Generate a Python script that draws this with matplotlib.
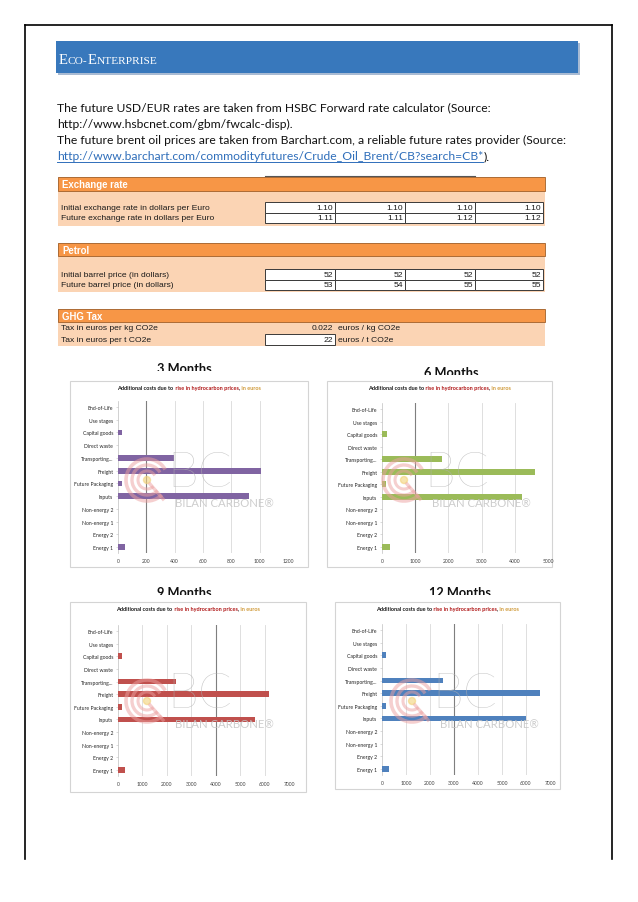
import matplotlib
matplotlib.use("Agg")
import matplotlib.pyplot as plt
from matplotlib.patches import Rectangle, Circle, Arc

W, H = 638, 903

# --- text of the page ---
header_title = "ECO-ENTERPRISE"
intro_lines = [
    "The future USD/EUR rates are taken from HSBC Forward rate calculator (Source:",
    "http://www.hsbcnet.com/gbm/fwcalc-disp).",
    "The future brent oil prices are taken from Barchart.com, a reliable future rates provider (Source:",
]
link_text = "http://www.barchart.com/commodityfutures/Crude_Oil_Brent/CB?search=CB*"

# --- spreadsheet values ---
rate_labels = ["Initial exchange rate in dollars per Euro",
               "Future exchange rate in dollars per Euro"]
initial_rate = [1.10, 1.10, 1.10, 1.10]
future_rate = [1.11, 1.11, 1.12, 1.12]
barrel_labels = ["Initial barrel price (in dollars)",
                 "Future barrel price (in dollars)"]
initial_barrel = [52, 52, 52, 52]
future_barrel = [53, 54, 55, 55]
tax_labels = ["Tax in euros per kg CO2e", "Tax in euros per t CO2e"]
tax_per_kg = 0.022
tax_per_t = 22

# --- chart values (additional costs, euros) ---
categories = ["End-of-Life", "Use stages", "Capital goods", "Direct waste",
              "Transporting...", "Freight", "Future Packaging", "Inputs",
              "Non-energy 2", "Non-energy 1", "Energy 2", "Energy 1"]
months = ["3 Months", "6 Months", "9 Months", "12 Months"]
costs_3m = [0, 0, 29, 0, 393, 1010, 29, 925, 0, 0, 0, 48]
costs_6m = [0, 0, 150, 0, 1800, 4620, 130, 4220, 0, 0, 0, 230]
costs_9m = [0, 0, 180, 0, 2370, 6180, 150, 5600, 0, 0, 0, 300]
costs_12m = [0, 0, 180, 0, 2540, 6600, 180, 5990, 0, 0, 0, 300]
axis_max = [1200, 5000, 7000, 7000]
axis_step = [200, 1000, 1000, 1000]
dark_line_at = [200, 1000, 4000, 3000]

BODY = "Lato"
SHEET = "Liberation Sans"
SHEET_FS = 6.1

fig = plt.figure(figsize=(W / 100, H / 100), dpi=100)
page = fig.add_axes([0, 0, 1, 1])
page.set_xlim(0, W)
page.set_ylim(H, 0)
page.axis("off")
renderer = fig.canvas.get_renderer()


def px_axes(l, t, r, b, **kw):
    return fig.add_axes([l / W, 1 - b / H, (r - l) / W, (b - t) / H], **kw)


def rich(ax, x, y, parts, ha="left", va="baseline", **kw):
    texts = [ax.text(0, y, s, va=va, **{**kw, **p}) for s, p in parts]
    widths = [t.get_window_extent(renderer).width for t in texts]
    x0 = x - sum(widths) / 2 if ha == "center" else x
    for t, w in zip(texts, widths):
        t.set_x(x0)
        x0 += w
    return texts


# page frame
page.plot([25, 25], [26, 860], color="black", lw=1.2)
page.plot([612, 612], [26, 860], color="black", lw=1.2)
page.plot([25, 612], [26, 26], color="black", lw=1.2)

# header bar
page.add_patch(Rectangle((58, 44), 522, 32, facecolor="#A9BBD3", edgecolor="none"))
page.add_patch(Rectangle((56, 42), 522, 32, facecolor="#3878BC", edgecolor="none"))
rich(page, 59, 63.5, [("E", {"fontsize": 10.6}), ("CO-", {"fontsize": 8.2}),
                      ("E", {"fontsize": 10.6}), ("NTERPRISE", {"fontsize": 8.2})],
     color="white", family="Liberation Serif")

# intro paragraph
for i, line in enumerate(intro_lines):
    page.text(57, 111 + i * 16.5, line, fontsize=8.7, family=BODY,
              color="#111111", va="baseline")
lt = rich(page, 57, 160.5, [(link_text, {"color": "#2F6EBA"}),
                            (").", {"color": "#111111"})],
          fontsize=8.7, family=BODY)
bb = lt[0].get_window_extent(renderer)
page.plot([bb.x0, bb.x1], [163, 163], color="#2F6EBA", lw=0.7)

# spreadsheet
col_x = [265, 335, 405, 475, 543]
page.plot([265, 475], [177, 177], color="#555555", lw=0.8)


def section(title, y0, y_head, y1):
    page.add_patch(Rectangle((58, y0), 487, y1 - y0, facecolor="#FBD4B4",
                             edgecolor="none"))
    page.add_patch(Rectangle((58, y0), 487, y_head - y0, facecolor="#F79646",
                             edgecolor="#A0602A", lw=0.6))
    page.text(62, (y0 + y_head) / 2 + 0.5, title, fontsize=6.9, family=SHEET,
              weight="bold", color="white", va="center")


def value_rows(labels, rows, fmt, y_top):
    for r, (lab, vals) in enumerate(zip(labels, rows)):
        y0 = y_top + r * 10.5
        page.text(61, y0 + 5.5, lab, fontsize=SHEET_FS, family=SHEET,
                  color="#1A1A1A", va="center")
        for j, v in enumerate(vals):
            page.add_patch(Rectangle((col_x[j], y0), col_x[j + 1] - col_x[j], 10.5,
                                     facecolor="white", edgecolor="#3A3A3A", lw=0.7))
            page.text(col_x[j + 1] - 2, y0 + 5.5, fmt.format(v), fontsize=SHEET_FS,
                      family=SHEET, color="#1A1A1A", ha="right", va="center")


section("Exchange rate", 178, 192, 227)
value_rows(rate_labels, [initial_rate, future_rate], "{:.2f}", 203)
section("Petrol", 244, 257, 293)
value_rows(barrel_labels, [initial_barrel, future_barrel], "{:d}", 270)
section("GHG Tax", 310, 323, 347)
page.text(61, 329, tax_labels[0], fontsize=SHEET_FS, family=SHEET, color="#1A1A1A", va="center")
page.text(61, 341, tax_labels[1], fontsize=SHEET_FS, family=SHEET, color="#1A1A1A", va="center")
page.text(333, 329, f"{tax_per_kg:.3f}", fontsize=SHEET_FS, family=SHEET, color="#1A1A1A",
          ha="right", va="center")
page.text(338, 329, "euros / kg CO2e", fontsize=SHEET_FS, family=SHEET, color="#1A1A1A",
          va="center")
page.add_patch(Rectangle((265, 335), 70, 11, facecolor="white", edgecolor="#3A3A3A", lw=0.7))
page.text(333, 341, f"{tax_per_t:d}", fontsize=SHEET_FS, family=SHEET, color="#1A1A1A",
          ha="right", va="center")
page.text(338, 341, "euros / t CO2e", fontsize=SHEET_FS, family=SHEET, color="#1A1A1A",
          va="center")

# charts
charts = [
    # box (l, t, r, b), plot x0..x1, first/last category y, month title position
    dict(box=(70, 382, 308, 568), x0=118, x1=288, c0=408, c1=548, tx=184, ty=369),
    dict(box=(327, 382, 552, 568), x0=382, x1=548, c0=410, c1=548, tx=451, ty=373),
    dict(box=(70, 603, 306, 793), x0=118, x1=289, c0=632, c1=771, tx=184, ty=593),
    dict(box=(335, 603, 560, 790), x0=382, x1=550, c0=631, c1=770, tx=460, ty=593),
]
series = [costs_3m, costs_6m, costs_9m, costs_12m]
colors = ["#8064A2", "#9BBB59", "#C0504D", "#4F81BD"]

for k, (cfg, vals) in enumerate(zip(charts, series)):
    l, t, r, b = cfg["box"]
    page.text(cfg["tx"], cfg["ty"], months[k], fontsize=9.2, family=BODY,
              weight="bold", color="#111111", ha="center", va="center")
    page.add_patch(Rectangle((l - 4, cfg["ty"] + 3), r - l + 8, t - cfg["ty"] - 3,
                             facecolor="white", edgecolor="none", zorder=4))
    page.add_patch(Rectangle((l, t), r - l, b - t, facecolor="white",
                             edgecolor="#D4D4D4", lw=0.8, zorder=5))
    rich(page, (l + r) / 2, t + 8.5,
         [("Additional costs due to", {"color": "#1A1A1A"}),
          (" rise in hydrocarbon prices", {"color": "#B01818"}),
          (",", {"color": "#1A1A1A"}),
          (" in euros", {"color": "#D09A3A"})],
         ha="center", fontsize=4.0, family=BODY, weight="bold", zorder=6)

    step = (cfg["c1"] - cfg["c0"]) / (len(categories) - 1)
    ax = px_axes(cfg["x0"], cfg["c0"] - step / 2, cfg["x1"], cfg["c1"] + step / 2)
    ax.set_facecolor("none")
    ax.barh(range(len(categories)), vals, height=0.45, color=colors[k], zorder=3)
    ax.set_xlim(0, axis_max[k])
    ax.set_ylim(len(categories) - 0.5, -0.5)
    ticks = list(range(0, axis_max[k] + 1, axis_step[k]))
    ax.set_xticks(ticks)
    ax.set_xticklabels([str(v) for v in ticks])
    for v in ticks[1:]:
        ax.axvline(v, color="#D9D9D9", lw=0.6, zorder=1)
    ax.axvline(dark_line_at[k], color="#7F7F7F", lw=0.8, zorder=2)
    ax.set_yticks(range(len(categories)))
    ax.set_yticklabels(categories)
    for s in ["top", "right", "bottom"]:
        ax.spines[s].set_visible(False)
    ax.spines["left"].set_color("#BFBFBF")
    ax.spines["left"].set_linewidth(0.5)
    ax.tick_params(axis="x", length=0, pad=3.6, labelsize=3.6, labelcolor="#404040")
    ax.tick_params(axis="y", length=1.5, width=0.4, color="#BFBFBF", pad=2,
                   labelsize=3.7, labelcolor="#262626")
    for lab in ax.get_xticklabels() + ax.get_yticklabels():
        lab.set_family(BODY)

# watermark overlay
over = fig.add_axes([0, 0, 1, 1], zorder=20)
over.set_facecolor("none")
over.set_xlim(0, W)
over.set_ylim(H, 0)
over.axis("off")
for cfg in charts:
    l, t = cfg["box"][0], cfg["box"][1]
    cx, cy = l + 77, t + 99
    for rad, lw in [(21, 2.6), (15, 2.4), (9, 2.2)]:
        over.add_patch(Arc((cx, cy), 2 * rad, 2 * rad, theta1=45, theta2=330,
                           color="#EDA0A0", lw=lw, alpha=0.5))
    over.add_patch(Circle((cx, cy), 3.5, color="#F3D27A", alpha=0.6))
    over.plot([cx + 3, cx + 16], [cy + 4, cy + 19], color="#EDA0A0", lw=2.4, alpha=0.5)
    over.text(l + 130, t + 105, "BC", fontsize=36, family=BODY, weight="light",
              color="#B0B0B0", alpha=0.75, ha="center", va="baseline")
    over.text(l + 105, t + 122, "BILAN CARBONE®", fontsize=8.2, family=BODY,
              color="#C4C4C4", alpha=0.85, va="center")

fig.savefig("out.png", dpi=100)
